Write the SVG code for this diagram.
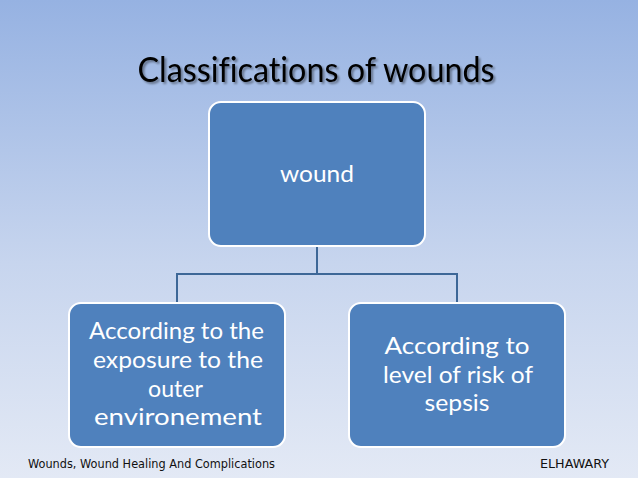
<svg xmlns="http://www.w3.org/2000/svg" width="638" height="478" viewBox="0 0 638 478">
<defs>
<linearGradient id="bg" x1="0" y1="0" x2="0" y2="1">
<stop offset="0" stop-color="#96b2e2"/>
<stop offset="0.55" stop-color="#c7d5ee"/>
<stop offset="1" stop-color="#e3e9f5"/>
</linearGradient>
<filter id="sh" x="-5%" y="-20%" width="110%" height="140%">
<feGaussianBlur in="SourceAlpha" stdDeviation="1"/>
<feOffset dx="1.5" dy="1.5" result="b"/>
<feComponentTransfer><feFuncA type="linear" slope="0.4"/></feComponentTransfer>
<feMerge><feMergeNode/><feMergeNode in="SourceGraphic"/></feMerge>
</filter>
</defs>
<style>
.box{fill:#4f81bd;stroke:#ffffff;stroke-width:2}
.t{font-family:Lato,"Open Sans","Liberation Sans",sans-serif;font-size:24px;fill:#ffffff;text-anchor:middle}
.c{fill:none;stroke:#3d6797;stroke-width:2}
.f{font-family:"DejaVu Sans","Liberation Sans",sans-serif;font-size:12px;fill:#111111}
</style>
<rect x="0" y="0" width="638" height="478" fill="url(#bg)"/>
<text x="316" y="82" font-family="Lato,'Open Sans','Liberation Sans',sans-serif" font-size="35" fill="#000000" text-anchor="middle" textLength="357" lengthAdjust="spacingAndGlyphs" style="font-variant-ligatures:none" filter="url(#sh)">Classifications of wounds</text>
<g id="connectors">
<path class="c" d="M317 246 V274 M177 303 V274 H457 V303"/>
</g>
<g id="wound">
<rect class="box" x="209" y="102" width="216" height="144" rx="12"/>
<text class="t" x="317" y="182" textLength="74" lengthAdjust="spacingAndGlyphs">wound</text>
</g>
<g id="exposure">
<rect class="box" x="69" y="303" width="216" height="144" rx="12"/>
<text class="t" x="176.5" y="339" textLength="175" lengthAdjust="spacingAndGlyphs">According to the</text>
<text class="t" x="178" y="368" textLength="170" lengthAdjust="spacingAndGlyphs">exposure to the</text>
<text class="t" x="175.5" y="397" textLength="55" lengthAdjust="spacingAndGlyphs">outer</text>
<text class="t" x="178" y="425" textLength="168" lengthAdjust="spacingAndGlyphs">environement</text>
</g>
<g id="sepsis">
<rect class="box" x="349" y="303" width="216" height="144" rx="12"/>
<text class="t" x="457" y="354" textLength="145" lengthAdjust="spacingAndGlyphs">According to</text>
<text class="t" x="458" y="383" textLength="150" lengthAdjust="spacingAndGlyphs">level of risk of</text>
<text class="t" x="457" y="411" textLength="65" lengthAdjust="spacingAndGlyphs">sepsis</text>
</g>
<text class="f" x="28" y="468" textLength="247" lengthAdjust="spacingAndGlyphs">Wounds, Wound Healing And Complications</text>
<text class="f" x="540" y="468" textLength="69" lengthAdjust="spacingAndGlyphs">ELHAWARY</text>
</svg>
